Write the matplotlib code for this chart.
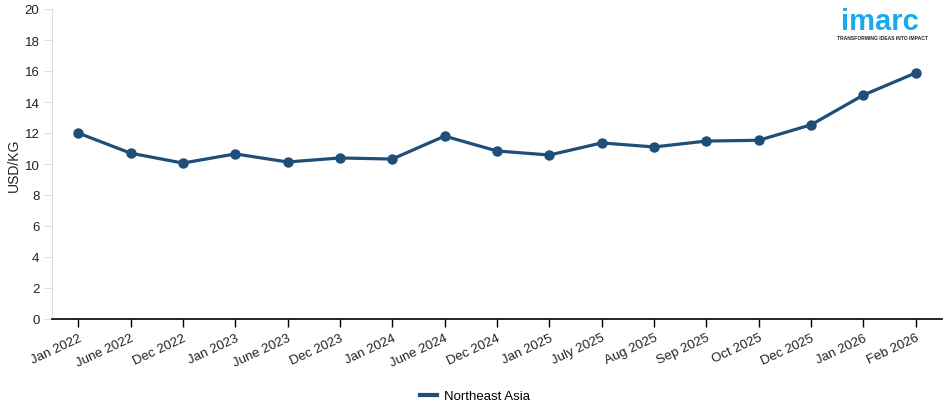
import matplotlib
matplotlib.use("Agg")
import matplotlib.pyplot as plt
from matplotlib.lines import Line2D

categories = ["Jan 2022", "June 2022", "Dec 2022", "Jan 2023", "June 2023", "Dec 2023",
              "Jan 2024", "June 2024", "Dec 2024", "Jan 2025", "July 2025", "Aug 2025",
              "Sep 2025", "Oct 2025", "Dec 2025", "Jan 2026", "Feb 2026"]
values = [12.0, 10.7, 10.06, 10.65, 10.13, 10.39, 10.32, 11.8, 10.84, 10.58,
          11.36, 11.1, 11.48, 11.53, 12.53, 14.45, 15.88]
series_name = "Northeast Asia"
y_ticks = [0, 2, 4, 6, 8, 10, 12, 14, 16, 18, 20]

plt.rcParams['font.family'] = ['Liberation Sans', 'DejaVu Sans']
W, H = 950, 414
fig = plt.figure(figsize=(W / 100, H / 100), dpi=100)
ax = fig.add_axes([52 / W, 1 - 320 / H, (942 - 52) / W, 310 / H])

color = '#1f4e79'
x = list(range(len(categories)))
ax.plot(x, values, color=color, lw=2.3, marker='o', markersize=6.5, zorder=3)

ax.set_xlim(-0.5, len(categories) - 0.5)
ax.set_ylim(0, 20)
ax.set_yticks(y_ticks)
ax.set_yticklabels([str(t) for t in y_ticks], fontsize=9.5, color='#222222')
ax.set_xticks(x)
ax.set_xticklabels(categories, rotation=25, ha='right', rotation_mode='anchor',
                   fontsize=9.5, color='#222222')

for s in ['top', 'right']:
    ax.spines[s].set_visible(False)
ax.spines['left'].set_color('#dddddd')
ax.spines['bottom'].set_color('#000000')
ax.spines['bottom'].set_linewidth(1.2)
ax.tick_params(axis='y', length=6, color='#dddddd', pad=3)
ax.tick_params(axis='x', length=6, color='#000000', width=1, pad=3)

ax.set_ylabel("USD/KG", fontsize=10, color='#222222', labelpad=3)

handle = Line2D([0], [0], color=color, lw=3)
fig.legend([handle], [series_name], loc='center', bbox_to_anchor=(475 / W, 1 - 397 / H),
           frameon=False, fontsize=9.5, handlelength=1.3, handletextpad=0.5)

# logo
fig.text(880 / W, 1 - 22 / H, "imarc", color='#19aaeb', fontsize=21, fontweight='bold',
         ha='center', va='center')
fig.text(882 / W, 1 - 39 / H, "TRANSFORMING IDEAS INTO IMPACT", color='#222222',
         fontsize=3.6, fontweight='bold', ha='center', va='center')

fig.savefig("out.png", dpi=100)
